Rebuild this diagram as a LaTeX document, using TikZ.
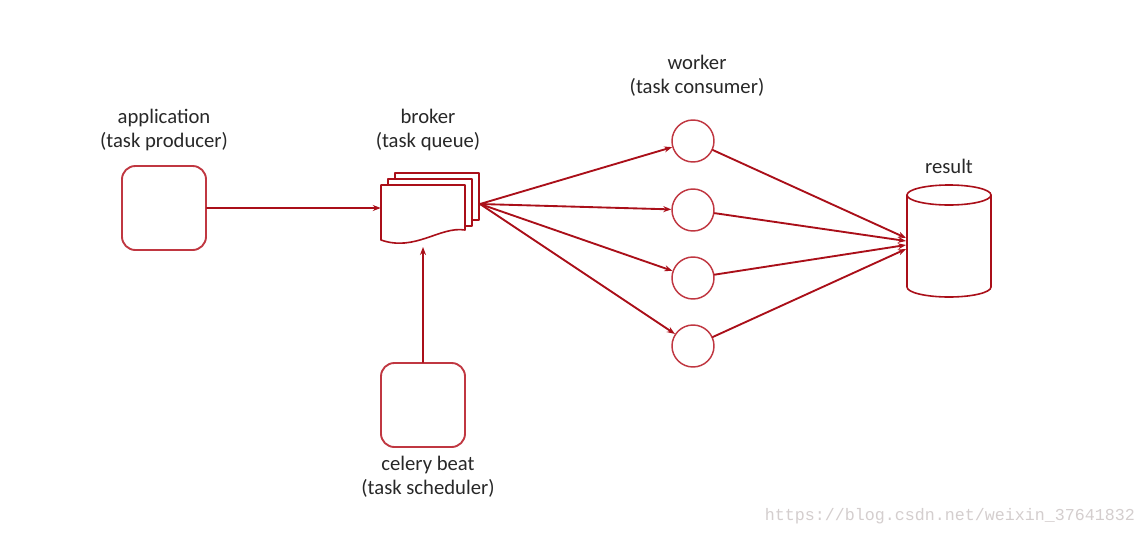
\documentclass[tikz,border=0pt]{standalone}
\usepackage{fontspec}
\setmainfont{Carlito}
\newfontfamily\wmfont{Liberation Mono}
\usetikzlibrary{arrows.meta}
\definecolor{linered}{RGB}{170,15,25}
\definecolor{boxred}{RGB}{192,55,65}
\definecolor{txtgray}{RGB}{40,40,40}
\definecolor{wmgray}{RGB}{212,206,206}
\begin{document}
\begin{tikzpicture}[x=0.75pt,y=-0.75pt,>={Stealth[length=6pt,width=4.5pt]}, font=\fontsize{15.5}{18}\selectfont, line join=round, line cap=round,
    rbox/.style={draw=boxred, line width=1.4pt, rounded corners=10pt, minimum size=63pt, inner sep=0pt},
    wnode/.style={circle, draw=boxred, line width=1.1pt, minimum size=31.5pt, inner sep=0pt},
    lbl/.style={align=center, text=txtgray},
    page/.style={draw=linered, line width=1.2pt, fill=white},
    flow/.style={->, draw=linered, line width=1.4pt}]
    \fill[white] (0,0) rectangle (1147,536);
    \useasboundingbox (0,0) rectangle (1147,536);
    % producer and scheduler
    \node[rbox] (app) at (164,208) {};
    \node[lbl] (applbl) at (164,130) {application\\(task producer)};
    \node[rbox] (beat) at (423,405) {};
    \node[lbl] (beatlbl) at (428,477) {celery beat\\(task scheduler)};
    % broker = stack of pages
    \draw[page] (395,173) rectangle (479,220);
    \draw[page] (388,179) rectangle (472,226);
    \draw[page] (381,240) -- (381,185) -- (465,185) -- (465,230) .. controls (440,226) and (415,252) .. (381,240) -- cycle;
    \node[inner sep=0pt, minimum width=63pt, minimum height=42pt] (broker) at (423,212) {};
    \node[lbl] (brokerlbl) at (428,130) {broker\\(task queue)};
    \coordinate (bqin) at (423,247);
    \coordinate (bqout) at (480,204);
    \draw[flow] (app) -- (app -| broker.west);
    \draw[flow] (beat) -- (bqin);
    % workers
    \node[lbl] (wlbl) at (697,76) {worker\\(task consumer)};
    \foreach \i/\y in {1/141,2/210,3/278,4/346} {
        \node[wnode] (w\i) at (693,\y) {};
        \draw[flow] (bqout) -- (w\i);
    }
    % result store
    \node[inner sep=0pt, minimum width=63pt, minimum height=69pt] (res) at (949,241) {};
    \draw[page] (907,195) -- (907,287) arc (180:0:42 and 10) -- (991,195);
    \draw[page] (949,195) ellipse (42 and 10);
    \node[lbl] (reslbl) at (949,166) {result};
    \foreach \i/\y in {1/238,2/241,3/245,4/249} {
        \coordinate (r\i) at (906,\y);
        \draw[flow] (w\i) -- (r\i);
    }
    \node[text=wmgray, font=\wmfont\fontsize{12.5}{14}\selectfont] (wm) at (950,516) {https://blog.csdn.net/weixin\_37641832};
\end{tikzpicture}
\end{document}
